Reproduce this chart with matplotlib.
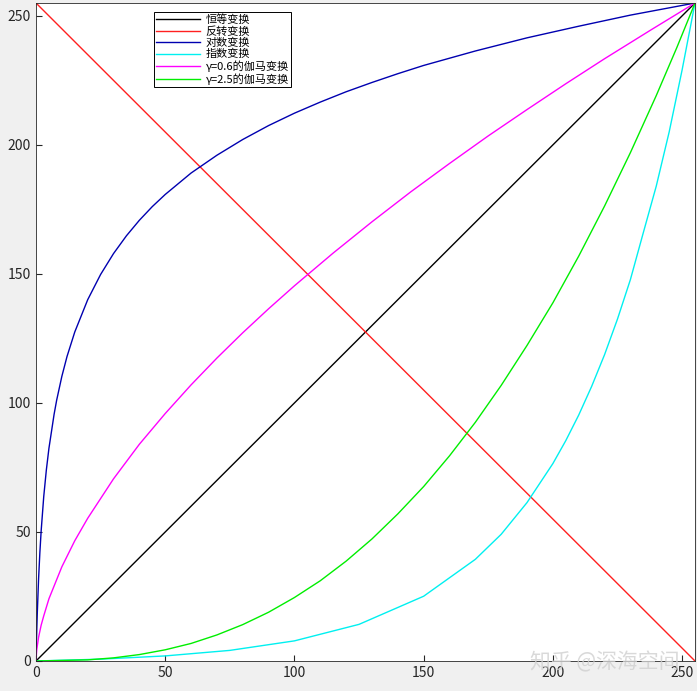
import matplotlib
matplotlib.use("Agg")
import matplotlib.pyplot as plt

plt.rcParams['font.family'] = ['Noto Sans CJK SC', 'DejaVu Sans']

x_id = [0, 255]; y_id = [0, 255]
x_inv = [0, 255]; y_inv = [255, 0]
x_log = [0, 0.25, 0.5, 1, 1.5, 2, 3, 4, 5, 7, 8, 10, 12, 15, 20, 25, 30, 35, 40, 45, 50, 60, 70, 80, 90, 100, 110, 120, 130, 140, 150, 170, 190, 210, 230, 255]
y_log = [0, 10.3, 18.6, 31.9, 42.1, 50.5, 63.8, 74.0, 82.4, 95.6, 101.1, 110.3, 118.0, 127.5, 140.0, 149.8, 157.9, 164.8, 170.8, 176.1, 180.8, 189.1, 196.0, 202.1, 207.5, 212.3, 216.6, 220.6, 224.2, 227.6, 230.8, 236.4, 241.5, 246.0, 250.3, 255]
x_exp = [0, 25, 50, 75, 100, 125, 150, 170, 180, 190, 200, 205, 210, 215, 220, 225, 230, 235, 240, 245, 250, 255]
y_exp = [0, 0.72, 1.97, 4.11, 7.8, 14.2, 25.1, 39.4, 49.1, 61.4, 76.5, 85.4, 95.3, 106.4, 118.7, 132.5, 147.8, 166, 184, 205, 229, 255]
x_g06 = [0, 0.3, 1, 2, 3, 5, 10, 15, 20, 30, 40, 50, 60, 70, 80, 90, 100, 115, 130, 145, 160, 175, 190, 205, 220, 238, 255]
y_g06 = [0, 4.46, 9.2, 13.9, 17.5, 24.1, 36.5, 46.6, 55.3, 70.6, 84.0, 95.9, 107.0, 117.4, 127.2, 136.5, 145.4, 158.1, 170.2, 181.8, 192.8, 203.5, 213.7, 223.7, 233.4, 244.6, 255]
x_g25 = [0, 20, 30, 40, 50, 60, 70, 80, 90, 100, 110, 120, 130, 140, 150, 160, 170, 180, 190, 200, 210, 220, 230, 240, 248, 255]
y_g25 = [0, 0.44, 1.21, 2.49, 4.34, 6.8, 10.1, 14.1, 18.9, 24.6, 31.1, 38.7, 47.3, 57.0, 67.6, 79.5, 92.5, 106.8, 122.3, 138.8, 156.9, 176.3, 197.0, 219.1, 237.8, 255]

fig = plt.figure(figsize=(6.97, 6.91), dpi=100, facecolor='#f0f0f0')
ax = fig.add_axes([36/697, 30/691, 659/697, 658/691])
ax.plot(x_id, y_id, color='black', lw=1, label='恒等变换')
ax.plot(x_inv, y_inv, color='#ff2020', lw=1, label='反转变换')
ax.plot(x_log, y_log, color='#0000b0', lw=1, label='对数变换')
ax.plot(x_exp, y_exp, color='#00f0f0', lw=1, label='指数变换')
ax.plot(x_g06, y_g06, color='#ff00ff', lw=1, label='γ=0.6的伽马变换')
ax.plot(x_g25, y_g25, color='#00ee00', lw=1, label='γ=2.5的伽马变换')
ax.set_xlim(0, 255); ax.set_ylim(0, 255)
ax.set_xticks([0, 50, 100, 150, 200, 250]); ax.set_yticks([0, 50, 100, 150, 200, 250])
ax.tick_params(direction='in', labelsize=10, colors='#262626', length=4)
for s in ax.spines.values():
    s.set_color('#262626'); s.set_linewidth(0.6)
leg = ax.legend(loc='upper left', bbox_to_anchor=(112/659, 0.995), fontsize=8,
                fancybox=False, edgecolor='black', framealpha=1, borderpad=0.2,
                labelspacing=0.1, handlelength=4, handletextpad=0.5)
leg.get_frame().set_linewidth(0.7)
fig.text(530/697, 1-662/691, '知乎 @深海空间', fontsize=15, color='#d0d0d0', va='center', alpha=0.8)
fig.savefig('out.png', dpi=100, facecolor=fig.get_facecolor())
